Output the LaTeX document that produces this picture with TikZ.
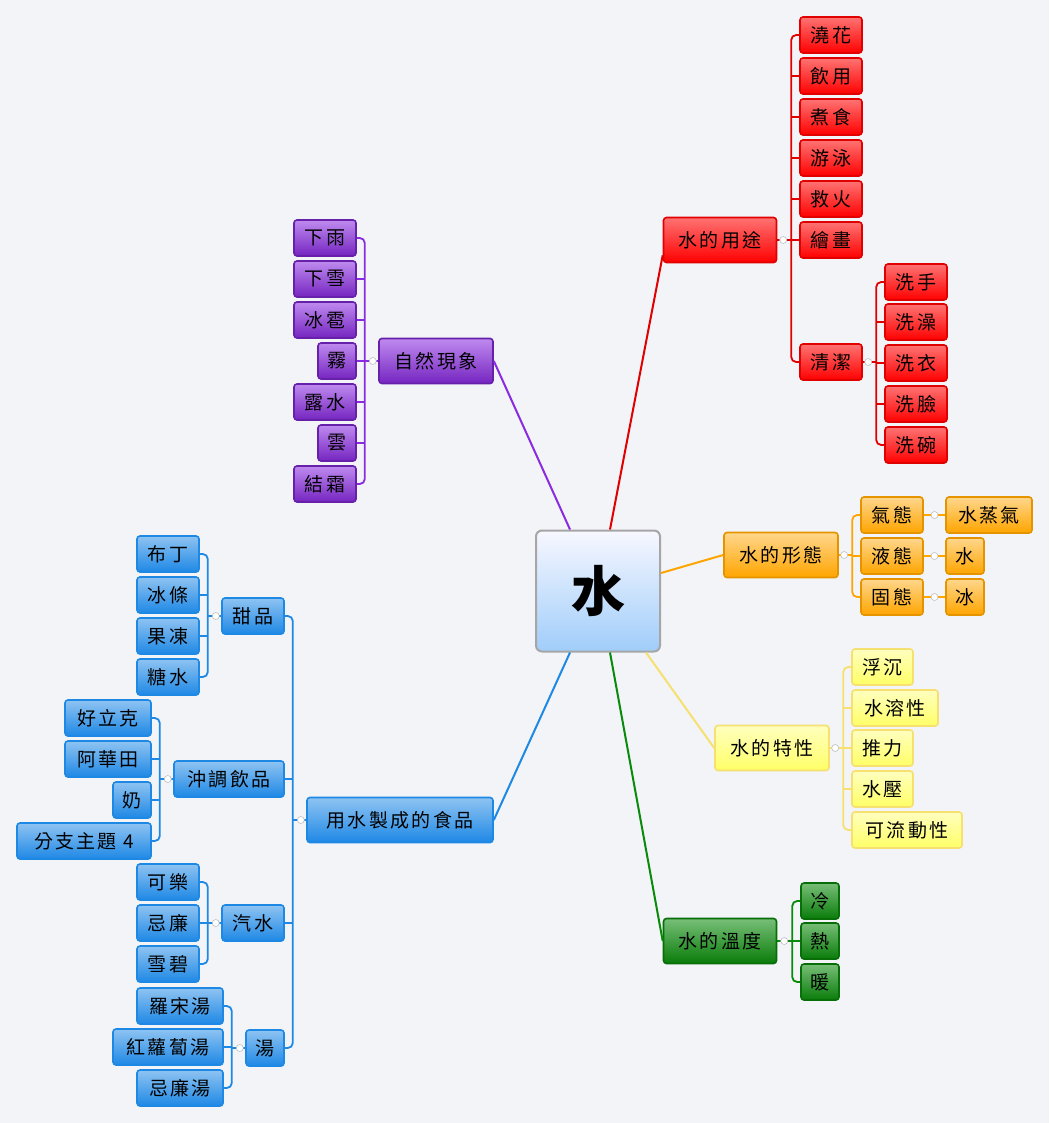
\documentclass[tikz,border=0pt]{standalone}
\usepackage{fontspec}
\setmainfont{Noto Sans CJK TC}[LetterSpace=12]
\usetikzlibrary{calc}
\definecolor{bg}{HTML}{F2F4F8}
\definecolor{rl}{HTML}{E00000}\definecolor{pl}{HTML}{8A2BE2}\definecolor{ol}{HTML}{FFA500}
\definecolor{yl}{HTML}{F5E070}\definecolor{gl}{HTML}{0A8A0A}\definecolor{bl}{HTML}{1E88E5}
\tikzset{
 bx/.style={rounded corners=3, line width=1.6, minimum height=36, inner xsep=2, inner ysep=0, font=\fontsize{19}{19}\selectfont, text=black},
 mn/.style={bx, minimum height=45},
 rb/.style={bx, draw=rl, top color=red!55, bottom color=red},
 pb/.style={bx, draw=pl!75!black, top color=pl!55, bottom color=pl!85!black},
 ob/.style={bx, draw=ol!90!black, top color=ol!45, bottom color=ol},
 yb/.style={bx, draw=yl, top color=yellow!25, bottom color=yellow!60},
 gb/.style={bx, draw=gl!80!black, top color=gl!55, bottom color=gl!90!black},
 bb/.style={bx, draw=bl, top color=bl!50, bottom color=bl},
 dot/.style={circle, draw=gray!50, fill=white, inner sep=0, minimum size=7, line width=0.6},
 ln/.style={line width=1.8, rounded corners=5},
}
\newcommand\nd[6]{\node[#1, minimum width=#5] (#2) at (#3,#4) {#6};}
\newcommand\brR[5]{%
 \draw[ln,#1] (#3.west) -- ++(-8,0) |- (#4.west);
 \foreach \c in {#5} {\draw[ln,#1] (\c.west) -- ++(-8,0);}
 \draw[ln,#1] (#2.east) -- ($(#2.east -| #3.west)+(-8,0)$);
 \node[dot] at ($(#2.east -| #3.west)+(-16,0)$) {};}
\newcommand\brL[5]{%
 \draw[ln,#1] (#3.east) -- ++(8,0) |- (#4.east);
 \foreach \c in {#5} {\draw[ln,#1] (\c.east) -- ++(8,0);}
 \draw[ln,#1] (#2.west) -- ($(#2.west -| #3.east)+(8,0)$);
 \node[dot] at ($(#2.west -| #3.east)+(16,0)$) {};}
\begin{document}
\begin{tikzpicture}[x=1pt,y=-1pt]
\fill[bg] (0,0) rectangle (1049,1123);
\useasboundingbox (0,0) rectangle (1049,1123);
\node[rounded corners=6, line width=2, draw=gray!70, top color=blue!3, bottom color={rgb,255:red,160;green,205;blue,250}, minimum width=124, minimum height=121, font=\fontsize{54}{54}\selectfont\bfseries, text=black] (c) at (598,591) {水};
\nd{rb,mn}{R}{720}{240}{113}{水的用途}
\nd{pb,mn}{P}{436}{361}{114}{自然現象}
\nd{ob,mn}{O}{781}{555}{114}{水的形態}
\nd{yb,mn}{Y}{772}{748}{114}{水的特性}
\nd{gb,mn}{G}{720}{941}{113}{水的溫度}
\nd{bb,mn}{B}{400}{820}{186}{用水製成的食品}
\draw[line width=2, rl] ($(c.north)+(12,0)$) -- ($(R.south west)+(0,-8)$);
\draw[line width=2, pl] ($(c.north)+(-28,0)$) -- (P.east);
\draw[line width=2, ol] ($(c.east)+(0,-18)$) -- (O.west);
\draw[line width=2, yl] ($(c.south east)+(-15,0)$) -- (Y.west);
\draw[line width=2, gl] ($(c.south)+(12,0)$) -- (G.west);
\draw[line width=2, bl] ($(c.south)+(-28,0)$) -- (B.east);
\nd{rb}{r1}{831}{35}{62}{澆花}
\nd{rb}{r2}{831}{76}{62}{飲用}
\nd{rb}{r3}{831}{117}{62}{煮食}
\nd{rb}{r4}{831}{158}{62}{游泳}
\nd{rb}{r5}{831}{199}{62}{救火}
\nd{rb}{r6}{831}{240}{62}{繪畫}
\nd{rb}{r7}{831}{362}{62}{清潔}
\brR{rl}{R}{r1}{r7}{r2,r3,r4,r5,r6}
\nd{rb}{s1}{916}{282}{62}{洗手}
\nd{rb}{s2}{916}{322}{62}{洗澡}
\nd{rb}{s3}{916}{363}{62}{洗衣}
\nd{rb}{s4}{916}{404}{62}{洗臉}
\nd{rb}{s5}{916}{445}{62}{洗碗}
\brR{rl}{r7}{s1}{s5}{s2,s3,s4}
\nd{pb}{p1}{325}{238}{62}{下雨}
\nd{pb}{p2}{325}{279}{62}{下雪}
\nd{pb}{p3}{325}{320}{62}{冰雹}
\nd{pb}{p4}{337}{361}{38}{霧}
\nd{pb}{p5}{325}{402}{62}{露水}
\nd{pb}{p6}{337}{443}{38}{雲}
\nd{pb}{p7}{325}{484}{62}{結霜}
\brL{pl}{P}{p1}{p7}{p2,p3,p4,p5,p6}
\nd{ob}{o1}{892}{515}{62}{氣態}
\nd{ob}{o2}{892}{556}{62}{液態}
\nd{ob}{o3}{892}{597}{62}{固態}
\brR{ol}{O}{o1}{o3}{o2}
\nd{ob}{q1}{989}{515}{86}{水蒸氣}
\nd{ob}{q2}{965}{556}{38}{水}
\nd{ob}{q3}{965}{597}{38}{冰}
\foreach \a/\b in {o1/q1,o2/q2,o3/q3}{\draw[ln,ol] (\a.east) -- (\b.west); \node[dot] at ($(\a.east)!0.5!(\b.west)$) {};}
\nd{yb}{y1}{882.5}{667}{61}{浮沉}
\nd{yb}{y2}{895}{708}{86}{水溶性}
\nd{yb}{y3}{882.5}{748}{61}{推力}
\nd{yb}{y4}{882.5}{789}{61}{水壓}
\nd{yb}{y5}{907}{830}{110}{可流動性}
\brR{yl}{Y}{y1}{y5}{y2,y3,y4}
\nd{gb}{g1}{820}{901}{38}{冷}
\nd{gb}{g2}{820}{941}{38}{熱}
\nd{gb}{g3}{820}{982}{38}{暖}
\brR{gl}{G}{g1}{g3}{g2}
\nd{bb}{b1}{253}{616}{62}{甜品}
\nd{bb}{b2}{229}{779}{110}{沖調飲品}
\nd{bb}{b3}{253}{923}{62}{汽水}
\nd{bb}{b4}{265}{1048}{38}{湯}
\brL{bl}{B}{b1}{b4}{b2,b3}
\nd{bb}{d1}{168}{554}{62}{布丁}
\nd{bb}{d2}{168}{595}{62}{冰條}
\nd{bb}{d3}{168}{636}{62}{果凍}
\nd{bb}{d4}{168}{677}{62}{糖水}
\brL{bl}{b1}{d1}{d4}{d2,d3}
\nd{bb}{e1}{108}{718}{86}{好立克}
\nd{bb}{e2}{108}{759}{86}{阿華田}
\nd{bb}{e3}{132}{800}{38}{奶}
\nd{bb}{e4}{84}{841}{134}{分支主題 4}
\brL{bl}{b2}{e1}{e4}{e2,e3}
\nd{bb}{f1}{168}{882}{62}{可樂}
\nd{bb}{f2}{168}{923}{62}{忌廉}
\nd{bb}{f3}{168}{964}{62}{雪碧}
\brL{bl}{b3}{f1}{f3}{f2}
\nd{bb}{h1}{180}{1006}{86}{羅宋湯}
\nd{bb}{h2}{168}{1047}{110}{紅蘿蔔湯}
\nd{bb}{h3}{180}{1088}{86}{忌廉湯}
\brL{bl}{b4}{h1}{h3}{h2}
\end{tikzpicture}
\end{document}
